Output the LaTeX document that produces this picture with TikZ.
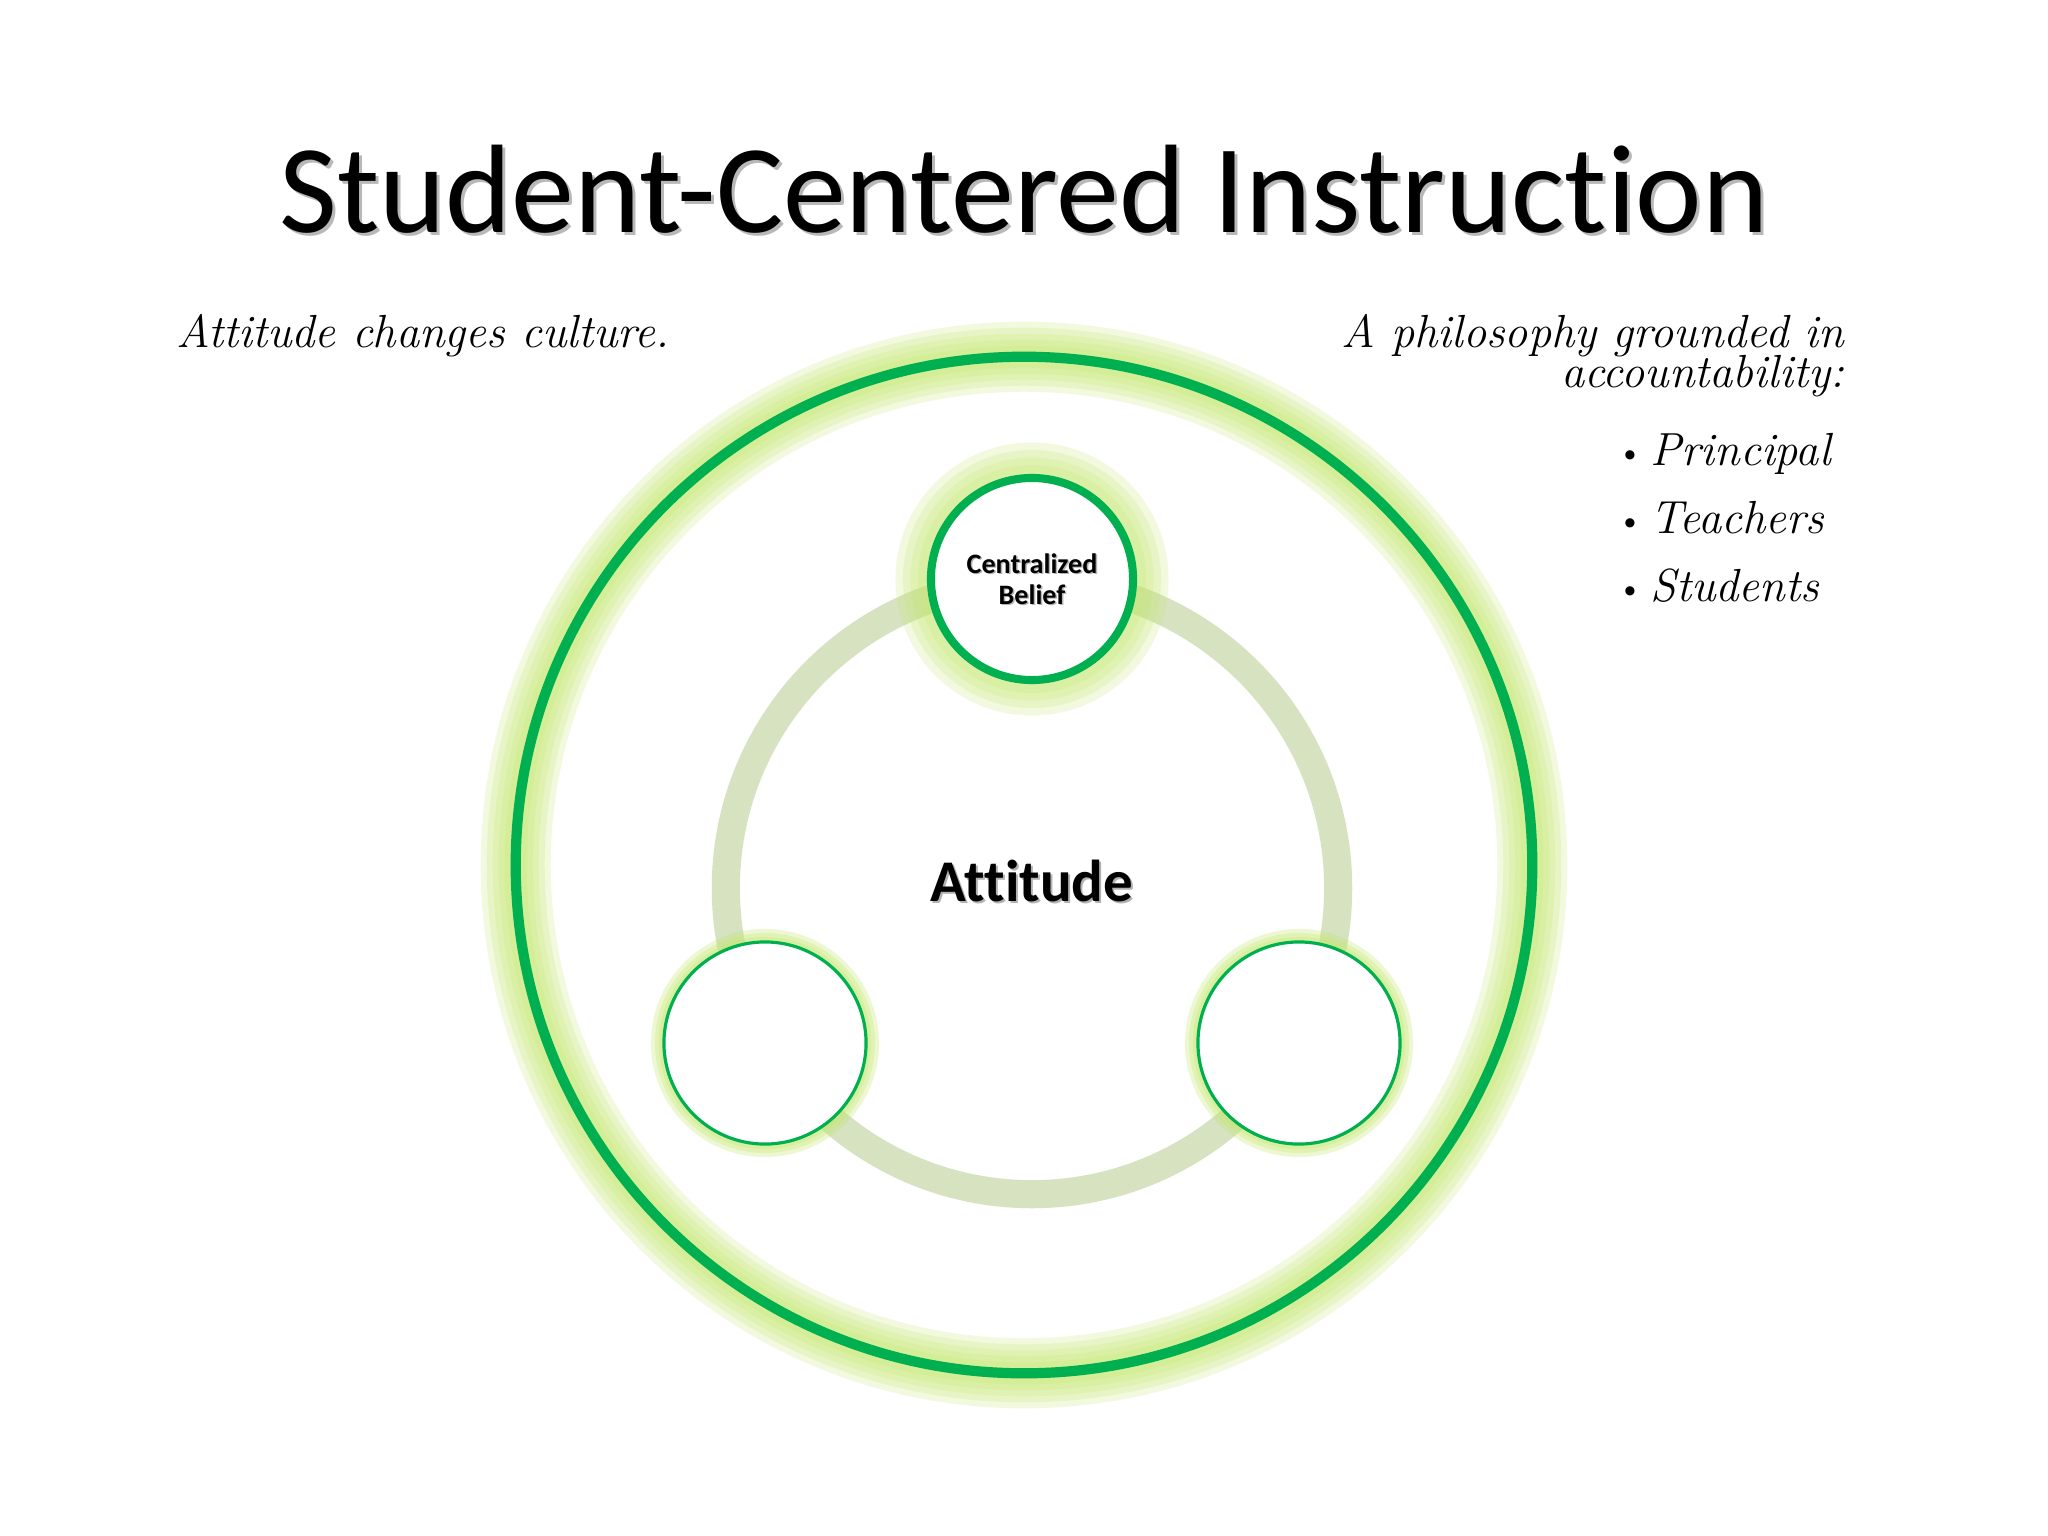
\documentclass[tikz,border=0pt]{standalone}
\usepackage{fontspec}
\setmainfont{Carlito}[Ligatures=NoCommon]
\newfontfamily\handfont{Latin Modern Roman}
\definecolor{ogreen}{RGB}{0,176,80}
\definecolor{glowc}{RGB}{196,232,110}
\definecolor{ringc}{RGB}{214,226,192}
\tikzset{
  glowring/.style={draw=glowc, draw opacity=0.22, fill=none},
  smallc/.style={circle, draw=ogreen, fill=white, minimum size=2.02cm, inner sep=0pt},
  lbl/.style={font=\bfseries, text=black, align=center},
  handtext/.style={font={\handfont\itshape\fontsize{13.2}{11.1}\selectfont\lineskiplimit -20pt\relax}, inner sep=0pt},
  bul/.style={font=\handfont\fontsize{9}{10}\selectfont, inner sep=0pt},
}
\begin{document}
\begin{tikzpicture}[x=0.01cm,y=-0.01cm]
\useasboundingbox[fill=white] (0,0) rectangle (2048,1536);
% title
\node[font=\fontsize{35.8}{40}\selectfont, text=black!55, opacity=0.5, anchor=base] at (1027,235) {Student-Centered Instruction};
\node[font=\fontsize{35.8}{40}\selectfont, anchor=base] (title) at (1024,232) {Student-Centered Instruction};
% side texts
\node[handtext, anchor=base west] (left) at (176,347) {Attitude changes culture.};
\node[handtext, anchor=base east, align=right] (r1) at (1845,387) {A philosophy grounded in\\accountability:};
\node[handtext, anchor=base west] (b1) at (1650,465) {Principal};
\node[handtext, anchor=base west] (b2) at (1650,533) {Teachers};
\node[handtext, anchor=base west] (b3) at (1650,601) {Students};
\node[bul, anchor=base] (d1) at (1630,462) {\textbullet};
\node[bul, anchor=base] (d2) at (1630,530) {\textbullet};
\node[bul, anchor=base] (d3) at (1630,598) {\textbullet};
% outer glow
\foreach \w in {7,5.8,4.6,3.4,2.2} {
  \draw[glowring, line width=\w mm] (1024,865) circle[radius=5.08cm];
}
\node[circle, draw=ogreen, line width=2.9pt, minimum size=10.16cm, inner sep=0pt] (outer) at (1024,865) {};
% inner ring
\node[circle, draw=ringc, line width=8pt, minimum size=6.12cm, inner sep=0pt] (ring) at (1032,888) {};
% glows of small circles
\foreach \w in {6.5,5,3.5,2} {
  \draw[glowring, line width=\w mm] (1032,579) circle[radius=1.04cm];
}
\foreach \w in {2.4,1.6,0.8} {
  \draw[glowring, draw opacity=0.3, line width=\w mm] (765,1043) circle[radius=1.02cm];
  \draw[glowring, draw opacity=0.3, line width=\w mm] (1299,1043) circle[radius=1.02cm];
}
\node[smallc, line width=2.3pt] (top) at (1032,579) {};
\node[smallc, line width=0.9pt] (bl) at (765,1043) {};
\node[smallc, line width=0.9pt] (br) at (1299,1043) {};
% labels
\node[lbl, font=\bfseries\fontsize{8}{8.8}\selectfont, text=black!50, opacity=0.6] at (1033.5,580.5) {Centralized\\Belief};
\node[lbl, font=\bfseries\fontsize{8}{8.8}\selectfont] (toplbl) at (top) {Centralized\\Belief};
\node[lbl, font=\bfseries\fontsize{16.8}{20}\selectfont, text=black!50, opacity=0.6, anchor=base] at (1034,903) {Attitude};
\node[lbl, font=\bfseries\fontsize{16.8}{20}\selectfont, anchor=base] (att) at (1032,901) {Attitude};
\end{tikzpicture}
\end{document}
